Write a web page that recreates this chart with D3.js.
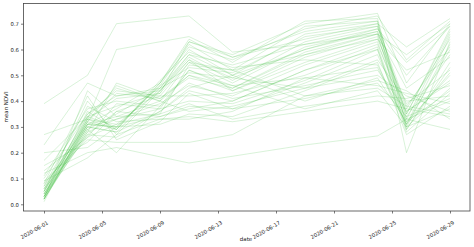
<!DOCTYPE html>
<html><head><meta charset="utf-8">
<script src="https://cdn.jsdelivr.net/npm/d3@7"></script>
<style>body{margin:0;background:#fff}svg{display:block}text{font-family:"DejaVu Sans",sans-serif}</style>
</head><body><svg id="c" width="474" height="247"></svg>
<script>
const dates = ["2020-06-01","2020-06-04","2020-06-06","2020-06-09","2020-06-11","2020-06-14","2020-06-19","2020-06-24","2020-06-26","2020-06-29"];
const xTickLabels = ["2020-06-01","2020-06-05","2020-06-09","2020-06-13","2020-06-17","2020-06-21","2020-06-25","2020-06-29"];
const yTicks = [0.0,0.1,0.2,0.3,0.4,0.5,0.6,0.7];
const s1 = [0.39,0.50,0.70,null,0.73,0.59,0.62,0.66,0.58,0.70];
const s2 = [0.27,0.33,0.60,null,0.65,0.57,0.64,0.70,0.61,0.72];
const s3 = [0.23,0.47,0.42,0.45,0.58,0.50,0.60,0.68,0.55,0.69];
const s4 = [0.02,0.32,0.29,0.47,0.64,0.55,0.71,0.72,0.30,0.62];
const s5 = [0.03,0.31,0.30,0.46,0.62,0.52,0.69,0.71,0.33,0.66];
const s6 = [0.02,0.30,0.28,0.45,0.60,0.50,0.66,0.70,0.35,0.68];
const s7 = [0.04,0.33,0.31,0.44,0.57,0.48,0.63,0.69,0.31,0.60];
const s8 = [0.05,0.32,0.46,0.40,0.55,0.47,0.61,0.67,0.37,0.64];
const s9 = [0.03,0.29,0.20,0.38,0.52,0.45,0.58,0.66,0.29,0.55];
const s10 = [0.02,0.28,0.47,0.41,0.50,0.44,0.57,0.65,0.34,0.58];
const s11 = [0.06,0.34,0.38,0.43,0.56,0.44,0.55,0.64,0.39,0.52];
const s12 = [0.04,0.30,0.33,0.39,0.46,0.42,0.54,0.63,0.32,0.50];
const s13 = [0.08,0.27,0.26,0.36,0.44,0.40,0.52,0.62,0.36,0.47];
const s14 = [0.10,0.35,0.44,0.42,0.42,0.43,0.50,0.61,0.30,0.45];
const s15 = [0.13,0.26,0.39,0.37,0.40,0.39,0.48,0.60,0.28,0.43];
const s16 = [0.15,0.24,0.36,0.34,0.38,0.37,0.47,0.58,0.33,0.40];
const s17 = [0.17,null,0.45,0.40,0.36,0.38,0.45,0.56,0.40,0.42];
const s18 = [0.20,0.22,0.30,0.31,0.35,0.34,0.44,0.55,0.27,0.38];
const s19 = [0.03,0.36,0.29,0.48,0.59,0.53,0.56,0.54,0.31,0.65];
const s20 = [0.05,0.40,0.27,0.44,0.56,0.49,0.45,0.50,0.42,0.36];
const s21 = [0.02,0.44,0.34,0.35,0.54,0.52,0.42,0.48,0.44,0.33];
const s22 = [0.07,0.38,0.32,0.33,0.33,0.36,0.49,0.46,0.43,0.39];
const s23 = [0.09,0.25,0.24,null,0.24,0.27,0.42,0.45,0.38,0.35];
const s24 = [0.12,0.20,0.22,null,0.16,null,0.23,0.265,0.33,0.29];
const s25 = [0.04,0.31,0.37,0.47,0.61,0.56,0.68,0.73,0.56,0.71];
const s26 = [0.06,0.33,0.41,0.43,0.63,0.58,0.70,0.74,0.47,0.70];
const s27 = [0.03,0.34,0.30,0.46,0.53,0.51,0.65,0.69,0.38,0.61];
const s28 = [0.02,0.29,0.35,0.45,0.51,0.49,0.60,0.67,0.35,0.67];
const s29 = [0.05,0.32,0.43,0.41,0.49,0.45,0.59,0.66,0.45,0.57];
const s30 = [0.11,0.37,0.40,0.38,0.47,0.41,0.46,0.52,0.36,0.48];
const s31 = [0.03,0.30,0.28,0.36,0.45,0.50,0.40,0.49,0.32,0.44];
const s32 = [0.08,0.42,0.25,0.32,0.43,0.37,0.41,0.47,0.34,0.41];
const s33 = [0.04,0.28,0.33,0.37,0.52,0.46,0.37,0.44,0.30,0.37];
const s34 = [0.06,0.26,0.31,0.35,0.39,0.33,0.38,0.42,0.41,0.46];
const s35 = [0.02,0.31,0.30,0.34,0.37,0.40,0.52,0.60,0.29,0.53];
const s36 = [0.09,0.18,0.27,0.33,0.34,0.32,0.36,0.40,0.37,0.34];
const s37 = [0.01,0.33,0.29,0.47,0.63,0.57,0.67,0.71,0.20,0.63];
const s38 = [0.05,0.35,0.42,0.44,0.58,0.54,0.62,0.68,0.50,0.69];
const s39 = [0.03,0.27,0.36,0.42,0.55,0.52,0.58,0.64,0.52,0.59];
const s40 = [0.07,0.31,0.34,0.40,0.50,0.46,0.49,0.53,0.31,0.51];
const series = [s1,s2,s3,s4,s5,s6,s7,s8,s9,s10,s11,s12,s13,s14,s15,s16,s17,s18,s19,s20,s21,s22,s23,s24,s25,s26,s27,s28,s29,s30,s31,s32,s33,s34,s35,s36,s37,s38,s39,s40];

const parse = d3.utcParse("%Y-%m-%d");
const svg = d3.select("#c");
const L = 23.5, R = 470, T = 3.5, B = 211;
const x = d3.scaleUtc().domain([parse("2020-06-01"), parse("2020-06-29")]).range([44, 450]);
const y = d3.scaleLinear().domain([0, 0.7]).range([204.3, 23.7]);

const line = d3.line().defined(d => d.v !== null).x(d => x(d.t)).y(d => y(d.v));
const g = svg.append("g");
series.forEach(s => {
  const pts = s.map((v, i) => ({t: parse(dates[i]), v})).filter(d => d.v !== null);
  g.append("path").attr("d", line(pts)).attr("fill", "none")
    .attr("stroke", "#3cbc3c").attr("stroke-opacity", 0.22).attr("stroke-width", 0.9);
});

// frame
svg.append("rect").attr("x", L).attr("y", T).attr("width", R - L).attr("height", B - T)
  .attr("fill", "none").attr("stroke", "#444").attr("stroke-width", 0.8);

const xa = svg.append("g").attr("transform", `translate(0,${B})`)
  .call(d3.axisBottom(x).tickValues(xTickLabels.map(parse)).tickFormat(d3.utcFormat("%Y-%m-%d")).tickSize(2.5).tickPadding(2));
xa.select(".domain").remove();
xa.selectAll("line").attr("stroke", "#444").attr("stroke-width", 0.7);
xa.selectAll("text").attr("font-size", 5.3).attr("fill", "#222")
  .attr("text-anchor", "end").attr("dy", 0).attr("dx", 0)
  .attr("transform", "translate(2,9) rotate(-30)");

const ya = svg.append("g").attr("transform", `translate(${L},0)`)
  .call(d3.axisLeft(y).tickValues(yTicks).tickFormat(d3.format(".1f")).tickSize(2.5).tickPadding(2));
ya.select(".domain").remove();
ya.selectAll("line").attr("stroke", "#444").attr("stroke-width", 0.7);
ya.selectAll("text").attr("font-size", 5.3).attr("fill", "#222");

svg.append("text").attr("x", 246).attr("y", 241).attr("text-anchor", "middle")
  .attr("font-size", 5.5).attr("fill", "#222").text("date");
svg.append("text").attr("transform", "translate(7.5,107) rotate(-90)").attr("text-anchor", "middle")
  .attr("font-size", 5.5).attr("fill", "#222").text("mean NDVI");
</script></body></html>
